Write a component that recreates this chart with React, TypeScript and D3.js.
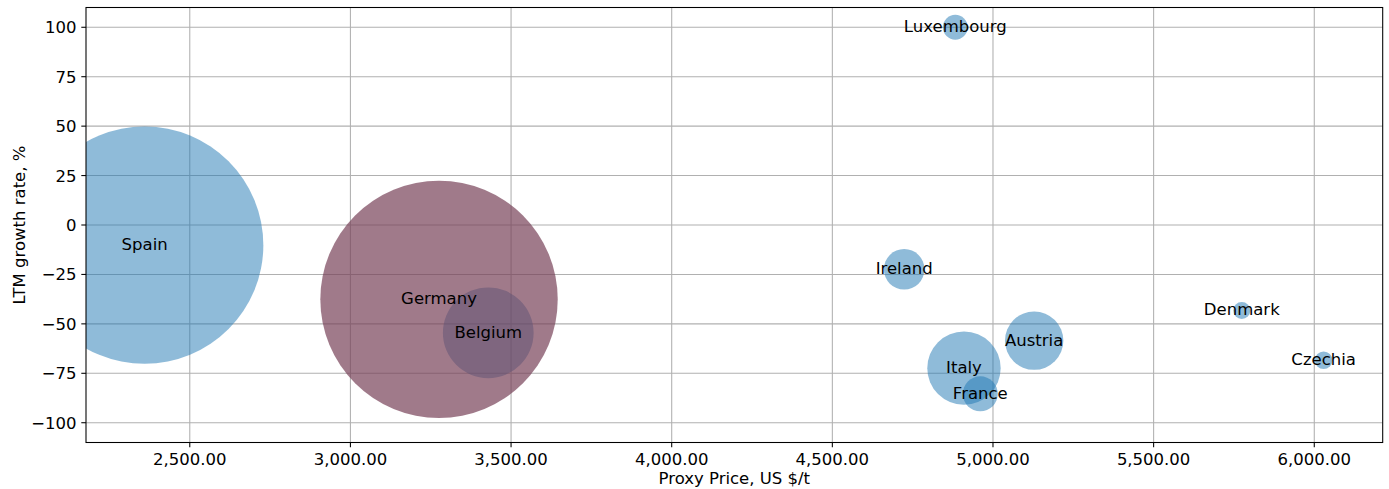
import React from "react";
import * as d3 from "d3";

const countries = ["Spain", "Belgium", "Germany", "Luxembourg", "Ireland", "Italy", "France", "Austria", "Denmark", "Czechia"];
const proxyPrice = [2359.5, 3429, 3275.8, 4882.7, 4723.6, 4909.7, 4960.5, 5128.2, 5774.4, 6029.2];
const growthRate = [-10.2, -54.5, -37.6, 100, -22.4, -72.4, -85.4, -58.5, -43.2, -68.4];
const bubbleSize = [14100, 2060, 14100, 154, 412, 1347, 306, 853, 72, 77];
const highlighted = ["Germany"];

const xTicks = [2500, 3000, 3500, 4000, 4500, 5000, 5500, 6000];
const yTicks = [-100, -75, -50, -25, 0, 25, 50, 75, 100];

const W = 1389;
const H = 489;
const M = { left: 86, right: 1382.7, top: 7.5, bottom: 442.5 };
const FONT = "DejaVu Sans, sans-serif";
const FS = 16.5;

export default function App() {
  const x = d3.scaleLinear().domain([2177, 6213]).range([M.left, M.right]);
  const y = d3.scaleLinear().domain([-110, 110]).range([M.bottom, M.top]);
  const r = d3.scaleSqrt().domain([0, 14100]).range([0, 118.7]);
  const fmt = d3.format(",.2f");

  const points = countries.map((c, i) => ({
    name: c,
    px: x(proxyPrice[i]),
    py: y(growthRate[i]),
    r: r(bubbleSize[i]),
    hi: highlighted.includes(c),
  }));

  return (
    <svg width={W} height={H} style={{ position: "absolute", left: 0, top: 0, background: "#fff" }} fontFamily={FONT}>
      <defs>
        <clipPath id="plot">
          <rect x={M.left} y={M.top} width={M.right - M.left} height={M.bottom - M.top} />
        </clipPath>
      </defs>
      <rect x={0} y={0} width={W} height={H} fill="#fff" />
      <g stroke="#b0b0b0" strokeWidth={1.07}>
        {xTicks.map((t) => (
          <line key={"gx" + t} x1={x(t)} x2={x(t)} y1={M.top} y2={M.bottom} />
        ))}
        {yTicks.map((t) => (
          <line key={"gy" + t} x1={M.left} x2={M.right} y1={y(t)} y2={y(t)} />
        ))}
      </g>
      <g clipPath="url(#plot)">
        {points.map((p) => (
          <circle
            key={p.name}
            cx={p.px}
            cy={p.py}
            r={p.r}
            fill={p.hi ? "#774158" : "#1f77b4"}
            fillOpacity={p.hi ? 0.7 : 0.5}
          />
        ))}
      </g>
      <g fontSize={FS} fill="#000" textAnchor="middle">
        {points.map((p) => (
          <text key={"l" + p.name} x={p.px} y={p.py} dy="0.3em">
            {p.name}
          </text>
        ))}
      </g>
      <rect
        x={M.left}
        y={M.top}
        width={M.right - M.left}
        height={M.bottom - M.top}
        fill="none"
        stroke="#000"
        strokeWidth={1.07}
      />
      <g fontSize={FS} textAnchor="middle">
        {xTicks.map((t) => (
          <g key={"tx" + t}>
            <line x1={x(t)} x2={x(t)} y1={M.bottom} y2={M.bottom + 4.7} stroke="#000" strokeWidth={1.07} />
            <text x={x(t)} y={M.bottom + 22.5} fill="#000">
              {fmt(t)}
            </text>
          </g>
        ))}
      </g>
      <g fontSize={FS} textAnchor="end">
        {yTicks.map((t) => (
          <g key={"ty" + t}>
            <line x1={M.left - 4.7} x2={M.left} y1={y(t)} y2={y(t)} stroke="#000" strokeWidth={1.07} />
            <text x={M.left - 9.4} y={y(t)} dy="0.36em" fill="#000">
              {t < 0 ? "\u2212" + Math.abs(t) : String(t)}
            </text>
          </g>
        ))}
      </g>
      <text x={(M.left + M.right) / 2} y={484} fontSize={FS} textAnchor="middle" fill="#000">
        Proxy Price, US $/t
      </text>
      <text
        transform={`translate(24.5, ${(M.top + M.bottom) / 2}) rotate(-90)`}
        fontSize={FS}
        textAnchor="middle"
        fill="#000"
      >
        LTM growth rate, %
      </text>
    </svg>
  );
}
